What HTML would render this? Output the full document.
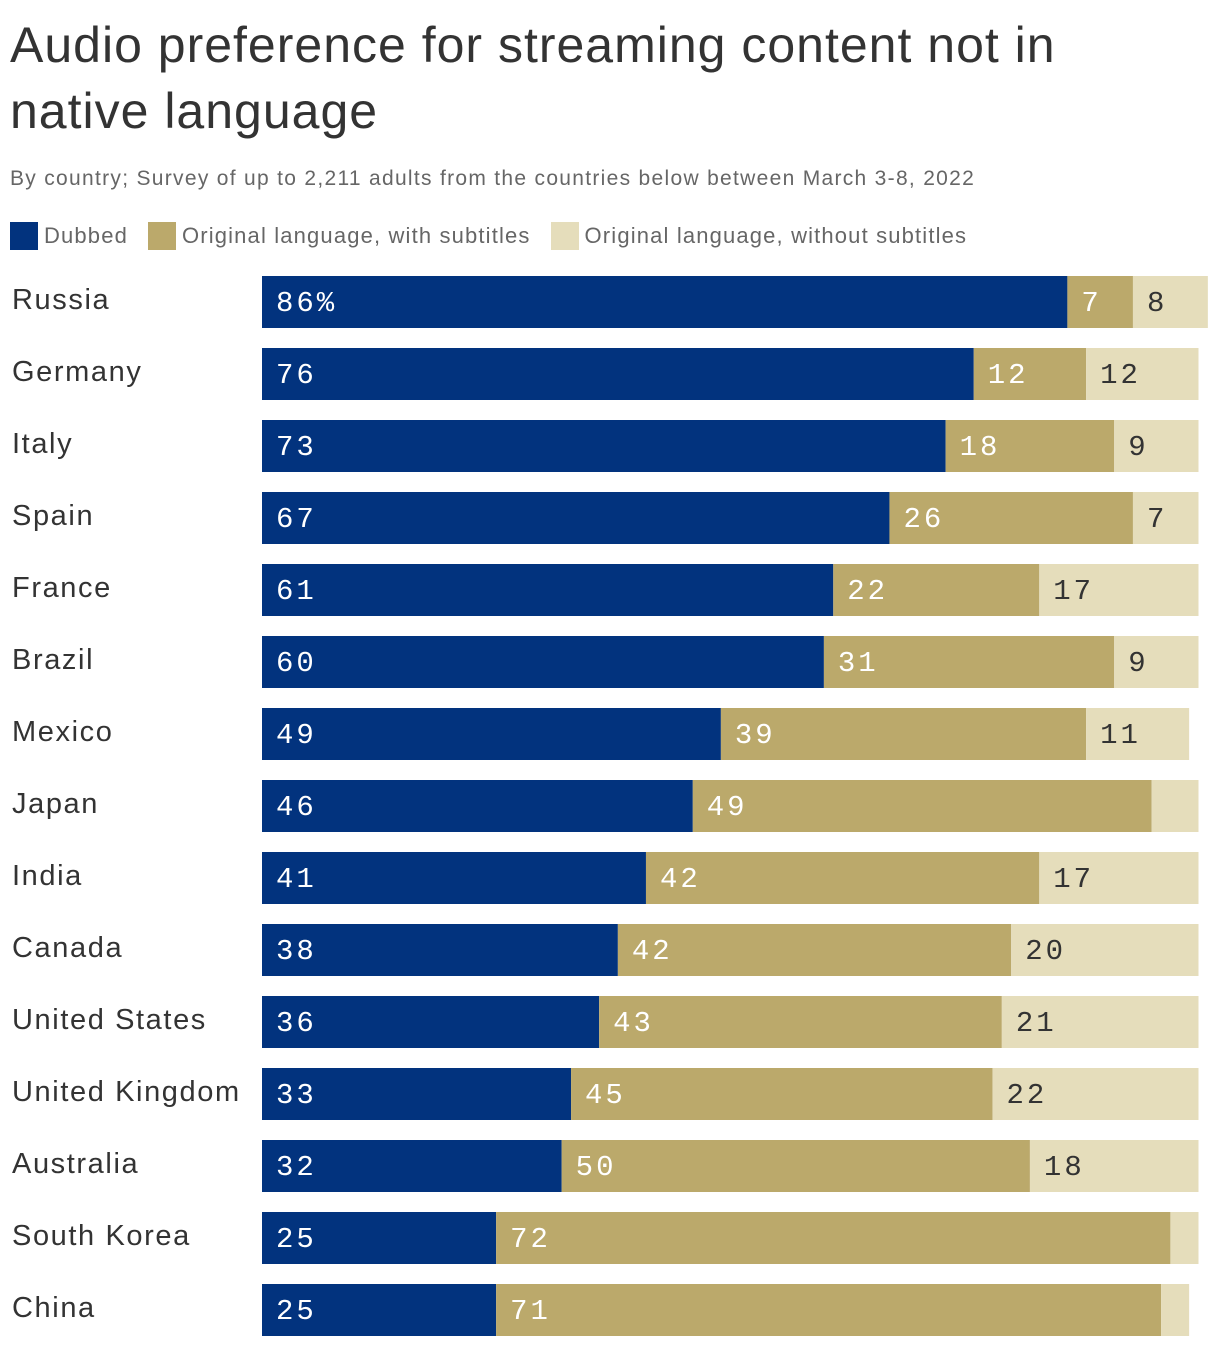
<!DOCTYPE html>
<html><head><meta charset="utf-8"><style>
body{margin:0;background:#fff;width:1220px;height:1346px;overflow:hidden;font-family:"Liberation Sans",sans-serif;}
#title{position:absolute;left:10px;top:12px;width:1100px;font-size:50px;line-height:66px;color:#333;letter-spacing:1px;margin:0;font-weight:normal}
#sub{position:absolute;left:10px;top:167px;font-size:21px;color:#666;letter-spacing:1.3px;word-spacing:0px}
#legend{position:absolute;left:10px;top:222px;font-size:22px;color:#666;display:flex;align-items:center;letter-spacing:1.15px}
.sw{width:28px;height:28px;display:inline-block;margin-right:6px}
.li{display:flex;align-items:center;margin-right:20px}
svg{position:absolute;left:0;top:0}
</style></head><body>
<h1 id="title">Audio preference for streaming content not in native language</h1>
<div id="sub">By country; Survey of up to 2,211 adults from the countries below between March 3-8, 2022</div>
<div id="legend">
<div class="li"><span class="sw" style="background:#02337e"></span>Dubbed</div>
<div class="li"><span class="sw" style="background:#bba96b"></span>Original language, with subtitles</div>
<div class="li"><span class="sw" style="background:#e5ddbb"></span>Original language, without subtitles</div>
</div>
<svg id="chart" width="1220" height="1346"></svg>
<script>
const countries=["Russia","Germany","Italy","Spain","France","Brazil","Mexico","Japan","India","Canada","United States","United Kingdom","Australia","South Korea","China"];
const dubbed=[86,76,73,67,61,60,49,46,41,38,36,33,32,25,25];
const withSubs=[7,12,18,26,22,31,39,49,42,42,43,45,50,72,71];
const withoutSubs=[8,12,9,7,17,9,11,5,17,20,21,22,18,3,3];
const showWithout=[true,true,true,true,true,true,true,false,true,true,true,true,true,false,false];
const svg=document.getElementById('chart');
const NS='http://www.w3.org/2000/svg';
const x0=262,scale=9.365;
const xs=v=>x0+v*scale;
const yRow=i=>276+i*72;
const colors=["#02337e","#bba96b","#e5ddbb"];
const txtCol=["#fff","#fff","#333"];
function mk(t,a){const e=document.createElementNS(NS,t);for(const k in a)e.setAttribute(k,a[k]);svg.appendChild(e);return e;}
countries.forEach((c,i)=>{
  const y=yRow(i);
  const lab=mk('text',{x:12,y:y+33,'font-size':29,fill:'#333','font-family':'Liberation Sans, sans-serif','letter-spacing':'1.6'});
  lab.textContent=c;
  
  
  const vals=[dubbed[i],withSubs[i],withoutSubs[i]];
  let acc=0;
  vals.forEach((v,k)=>{
    const r=mk('rect',{x:xs(acc),y:y,width:v*scale,height:52,fill:colors[k]});
    
    
    if(k<2||showWithout[i]){
      const t=mk('text',{x:xs(acc)+14,y:y+35,'font-size':29,fill:txtCol[k],'font-family':'Liberation Mono, monospace','letter-spacing':'3'});
      t.textContent=(i===0&&k===0)?v+'%':v;
      
      
    }
    acc+=v;
  });
});
</script>
</body></html>
